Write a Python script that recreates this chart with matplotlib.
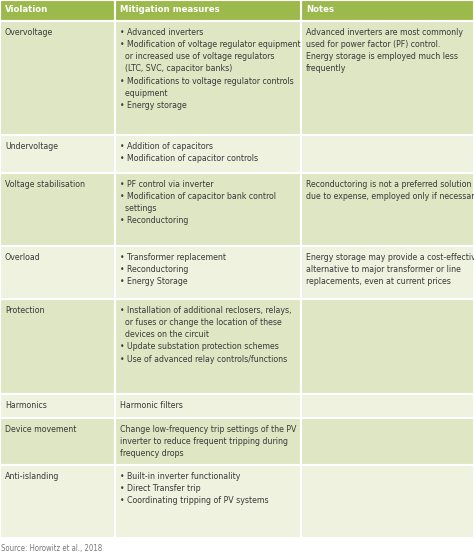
import matplotlib
matplotlib.use("Agg")
import matplotlib.pyplot as plt
from matplotlib.patches import Rectangle

headers = ["Violation", "Mitigation measures", "Notes"]
violations = ["Overvoltage", "Undervoltage", "Voltage stabilisation", "Overload", "Protection",
              "Harmonics", "Device movement", "Anti-islanding"]
measures = [
    "• Advanced inverters\n• Modification of voltage regulator equipment\n  or increased use of voltage regulators\n  (LTC, SVC, capacitor banks)\n• Modifications to voltage regulator controls\n  equipment\n• Energy storage",
    "• Addition of capacitors\n• Modification of capacitor controls",
    "• PF control via inverter\n• Modification of capacitor bank control\n  settings\n• Reconductoring",
    "• Transformer replacement\n• Reconductoring\n• Energy Storage",
    "• Installation of additional reclosers, relays,\n  or fuses or change the location of these\n  devices on the circuit\n• Update substation protection schemes\n• Use of advanced relay controls/functions",
    "Harmonic filters",
    "Change low-frequency trip settings of the PV\ninverter to reduce frequent tripping during\nfrequency drops",
    "• Built-in inverter functionality\n• Direct Transfer trip\n• Coordinating tripping of PV systems",
]
notes = [
    "Advanced inverters are most commonly\nused for power factor (PF) control.\nEnergy storage is employed much less\nfrequently",
    "",
    "Reconductoring is not a preferred solution\ndue to expense, employed only if necessary",
    "Energy storage may provide a cost-effective\nalternative to major transformer or line\nreplacements, even at current prices",
    "", "", "", "",
]
source = "Source: Horowitz et al., 2018"

row_edges = [0, 21, 135, 173, 246, 299, 394, 418, 465, 538]
col_edges = [0, 115, 301, 474]
W, H = 474, 552

fig = plt.figure(figsize=(W/100, H/100), dpi=100)
ax = fig.add_axes([0, 0, 1, 1])
ax.set_xlim(0, W); ax.set_ylim(H, 0); ax.axis("off")
header_c = "#9cb94c"
dark, light = "#dfe6c3", "#eef2df"
kw = dict(family="DejaVu Sans", fontstretch="condensed")

for r in range(len(row_edges)-1):
    y0, y1 = row_edges[r], row_edges[r+1]
    for c in range(3):
        x0, x1 = col_edges[c], col_edges[c+1]
        col = header_c if r == 0 else (dark if r % 2 == 1 else light)
        ax.add_patch(Rectangle((x0, y0), x1-x0, y1-y0, facecolor=col, edgecolor="white", lw=1.5))
    if r == 0:
        for c, t in enumerate(headers):
            ax.text(col_edges[c]+5, y0+10, t, color="white", fontsize=6.8, fontweight="bold",
                    va="center", **kw)
    else:
        texts = [violations[r-1], measures[r-1], notes[r-1]]
        for c, t in enumerate(texts):
            ax.text(col_edges[c]+5, y0+7, t, color="#3a3a3a", fontsize=6.3,
                    va="top", linespacing=1.45, **kw)
ax.text(1, 548, source, color="#777777", fontsize=5.6, va="center", **kw)
fig.savefig("out.png", dpi=100)
